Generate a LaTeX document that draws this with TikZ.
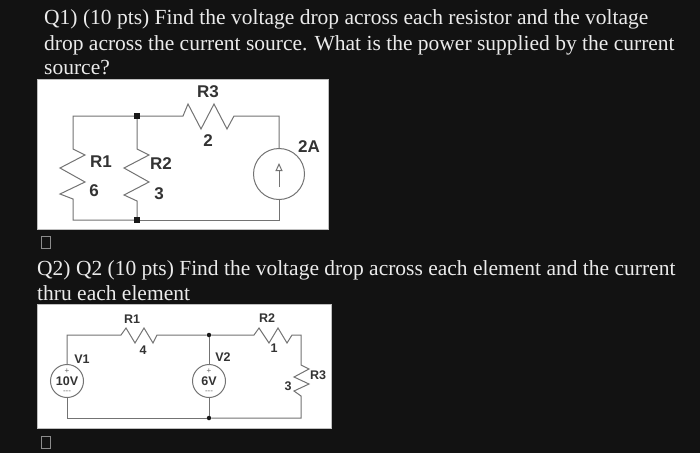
\documentclass[tikz,border=0pt]{standalone}
\usepackage{fontspec}
\setmainfont{Liberation Serif}
\newfontfamily\labelfont{Liberation Sans}
\usetikzlibrary{arrows.meta}
\begin{document}
\begin{tikzpicture}[x=1pt,y=-1pt,line join=miter]
% Colors
\colorlet{pagecolor}{black!93}
\colorlet{textcolor}{white!92!black}
\colorlet{wirecolor}{black!55}
\colorlet{labelcolor}{black!80}
% Styles
\tikzstyle{question}=[anchor=base west,inner sep=0pt,text=textcolor,font=\fontsize{21.5}{22}\selectfont]
\tikzstyle{wire}=[draw=wirecolor,line width=1pt]
\tikzstyle{panel}=[fill=white,draw=black!25,line width=0.6pt]
\tikzstyle{source}=[circle,draw=wirecolor,line width=1pt,fill=white,inner sep=0pt]
\tikzstyle{junction}=[fill=black!90,inner sep=0pt]
\tikzstyle{part}=[inner sep=0pt,text=labelcolor,font=\labelfont\bfseries\fontsize{17}{17}\selectfont]
\tikzstyle{smallpart}=[inner sep=0pt,text=labelcolor,font=\labelfont\bfseries\fontsize{12.5}{12.5}\selectfont]
\tikzstyle{polarity}=[inner sep=0pt,text=black!60,font=\labelfont\fontsize{8}{8}\selectfont]
\tikzstyle{checkbox}=[draw=black!45,line width=1pt,fill=pagecolor,inner sep=0pt,minimum width=9pt,minimum height=12pt]
% The page
\fill[pagecolor] (0,0) rectangle (700,453);
\useasboundingbox (0,0) rectangle (700,453);
\node[question] (line a) at (44,24) {Q1) (10 pts) Find the voltage drop across each resistor and the voltage};
\node[question] (line b) at (44,50) {drop across the current source. What is the power supplied by the current};
\node[question] (line c) at (44,74) {source?};
\node[question] (line d) at (37,275) {Q2) Q2 (10 pts) Find the voltage drop across each element and the current};
\node[question] (line e) at (37,300) {thru each element};
\node[checkbox] (box a) at (46,242.5) {};
\node[checkbox] (box b) at (46,442.5) {};
% The first circuit
\filldraw[panel] (37,79) rectangle (328,229);
\coordinate (tl) at (73,116);
\coordinate (bl) at (73,220);
\coordinate (tr) at (279,116);
\coordinate (br) at (279,220);
\node[junction,minimum size=6pt] (top) at (137,116) {};
\node[junction,minimum size=6pt] (bottom) at (137,220) {};
\node[source,minimum size=51pt] (is) at (279,174) {};
\draw[wire] (top) -- (tl) -- ++(0,33) -- ++(12,6) -- ++(-25,13) -- ++(25,14) -- ++(-25,12) -- ++(13,5) -- (bl) -- (bottom);
\draw[wire] (top) -- ++(0,33) -- ++(12,6) -- ++(-25,13) -- ++(25,14) -- ++(-25,13) -- ++(13,6) -- (bottom);
\draw[wire] (top) -- (183,116) -- ++(5,-12) -- ++(13,25) -- ++(13,-25) -- ++(13,25) -- ++(7,-13) -- (tr) -- (is);
\draw[wire] (is) -- (br) -- (bottom);
\draw[wire,-{Triangle[open,length=8pt,width=7pt]}] (279,187) -- (279,163);
\node[part] (r3) at (208,92) {R3};
\node[part] (r3 val) at (208,141) {2};
\node[part] (is val) at (309,147) {2A};
\node[part] (r1) at (101,162) {R1};
\node[part] (r1 val) at (94,191) {6};
\node[part] (r2) at (161,164) {R2};
\node[part] (r2 val) at (159,194) {3};
% The second circuit
\filldraw[panel] (37,304) rectangle (331,428);
\coordinate (tl2) at (67,335);
\coordinate (bl2) at (67,418);
\coordinate (tr2) at (301,335);
\coordinate (br2) at (301,418);
\node[junction,circle,minimum size=4.5pt] (top2) at (209,335) {};
\node[junction,circle,minimum size=4.5pt] (bottom2) at (209,418) {};
\node[source,minimum size=33pt] (v1) at (67,381) {};
\node[source,minimum size=33pt] (v2) at (209,381) {};
\draw[wire] (top2) -- (157,335) -- ++(-4,8) -- ++(-9,-15) -- ++(-9,15) -- ++(-9,-15) -- ++(-5,7) -- (tl2) -- (v1);
\draw[wire] (v1) -- (bl2) -- (bottom2);
\draw[wire] (top2) -- (v2);
\draw[wire] (v2) -- (bottom2);
\draw[wire] (top2) -- (254,335) -- ++(5,-7) -- ++(10,15) -- ++(9,-15) -- ++(9,15) -- ++(5,-8) -- (tr2) -- ++(0,30) -- ++(8,4) -- ++(-15,8) -- ++(15,7) -- ++(-15,7) -- ++(7,5) -- (br2) -- (bottom2);
\foreach \src/\srcname/\srctext in {67/v1/10V, 209/v2/6V} {
\node[smallpart] (\srcname val) at (\src,381.5) {\srctext};
\node[polarity] (\srcname plus) at (\src,371) {+};
\node[polarity] (\srcname minus) at (\src,392) {---};
}
\node[smallpart] (r1b) at (132,319) {R1};
\node[smallpart] (r1b val) at (143,350) {4};
\node[smallpart] (r2b) at (267,318) {R2};
\node[smallpart] (r2b val) at (274,348) {1};
\node[smallpart] (r3b) at (318,375) {R3};
\node[smallpart] (r3b val) at (288,386) {3};
\node[smallpart] (v1 name) at (82,359) {V1};
\node[smallpart] (v2 name) at (223,357) {V2};
\end{tikzpicture}
\end{document}
